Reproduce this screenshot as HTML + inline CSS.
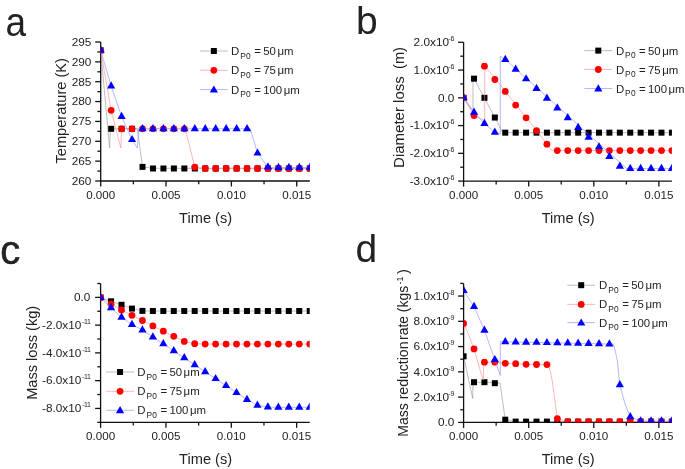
<!DOCTYPE html>
<html><head><meta charset="utf-8"><style>
html,body{margin:0;padding:0;background:#fff;}
body{width:685px;height:469px;overflow:hidden;}
svg{display:block;filter:blur(0.35px);}
</style></head><body>
<svg width="685" height="469" viewBox="0 0 685 469" font-family='"Liberation Sans", sans-serif'>
<rect width="685" height="469" fill="#fff"/>
<defs>
<clipPath id="ca"><rect x="100.70" y="36.00" width="209.10" height="145.00"/></clipPath>
<clipPath id="cb"><rect x="463.60" y="36.30" width="208.30" height="144.80"/></clipPath>
<clipPath id="cc"><rect x="100.60" y="277.50" width="209.10" height="144.80"/></clipPath>
<clipPath id="cd"><rect x="463.60" y="277.40" width="208.30" height="145.00"/></clipPath>
</defs>
<text transform="translate(5.4,36.4) scale(0.93,1)" font-size="39.8" fill="#222">a</text>
<text x="356.00" y="34.40" font-size="39" text-anchor="start" fill="#222" >b</text>
<text x="0.20" y="263.60" font-size="40" text-anchor="start" fill="#222" stroke="#222" stroke-width="0.5">c</text>
<text x="355.50" y="261.60" font-size="39" text-anchor="start" fill="#222" >d</text>
<line x1="95.20" y1="181.00" x2="100.70" y2="181.00" stroke="#111" stroke-width="1.3"/>
<line x1="95.20" y1="161.14" x2="100.70" y2="161.14" stroke="#111" stroke-width="1.3"/>
<line x1="95.20" y1="141.29" x2="100.70" y2="141.29" stroke="#111" stroke-width="1.3"/>
<line x1="95.20" y1="121.43" x2="100.70" y2="121.43" stroke="#111" stroke-width="1.3"/>
<line x1="95.20" y1="101.57" x2="100.70" y2="101.57" stroke="#111" stroke-width="1.3"/>
<line x1="95.20" y1="81.71" x2="100.70" y2="81.71" stroke="#111" stroke-width="1.3"/>
<line x1="95.20" y1="61.86" x2="100.70" y2="61.86" stroke="#111" stroke-width="1.3"/>
<line x1="95.20" y1="42.00" x2="100.70" y2="42.00" stroke="#111" stroke-width="1.3"/>
<line x1="97.40" y1="171.07" x2="100.70" y2="171.07" stroke="#111" stroke-width="1.3"/>
<line x1="97.40" y1="151.21" x2="100.70" y2="151.21" stroke="#111" stroke-width="1.3"/>
<line x1="97.40" y1="131.36" x2="100.70" y2="131.36" stroke="#111" stroke-width="1.3"/>
<line x1="97.40" y1="111.50" x2="100.70" y2="111.50" stroke="#111" stroke-width="1.3"/>
<line x1="97.40" y1="91.64" x2="100.70" y2="91.64" stroke="#111" stroke-width="1.3"/>
<line x1="97.40" y1="71.79" x2="100.70" y2="71.79" stroke="#111" stroke-width="1.3"/>
<line x1="97.40" y1="51.93" x2="100.70" y2="51.93" stroke="#111" stroke-width="1.3"/>
<line x1="100.70" y1="181.00" x2="100.70" y2="186.50" stroke="#111" stroke-width="1.3"/>
<line x1="166.04" y1="181.00" x2="166.04" y2="186.50" stroke="#111" stroke-width="1.3"/>
<line x1="231.39" y1="181.00" x2="231.39" y2="186.50" stroke="#111" stroke-width="1.3"/>
<line x1="296.73" y1="181.00" x2="296.73" y2="186.50" stroke="#111" stroke-width="1.3"/>
<line x1="133.37" y1="181.00" x2="133.37" y2="184.30" stroke="#111" stroke-width="1.3"/>
<line x1="198.72" y1="181.00" x2="198.72" y2="184.30" stroke="#111" stroke-width="1.3"/>
<line x1="264.06" y1="181.00" x2="264.06" y2="184.30" stroke="#111" stroke-width="1.3"/>
<path d="M100.70,42.00V181.00H309.80" fill="none" stroke="#111" stroke-width="1.3"/>
<text x="100.70" y="199.20" font-size="11.6" text-anchor="middle" fill="#222" >0.000</text>
<text x="166.04" y="199.20" font-size="11.6" text-anchor="middle" fill="#222" >0.005</text>
<text x="231.39" y="199.20" font-size="11.6" text-anchor="middle" fill="#222" >0.010</text>
<text x="296.73" y="199.20" font-size="11.6" text-anchor="middle" fill="#222" >0.015</text>
<text x="91.40" y="184.80" font-size="11.8" text-anchor="end" fill="#222" >260</text>
<text x="91.40" y="164.94" font-size="11.8" text-anchor="end" fill="#222" >265</text>
<text x="91.40" y="145.09" font-size="11.8" text-anchor="end" fill="#222" >270</text>
<text x="91.40" y="125.23" font-size="11.8" text-anchor="end" fill="#222" >275</text>
<text x="91.40" y="105.37" font-size="11.8" text-anchor="end" fill="#222" >280</text>
<text x="91.40" y="85.51" font-size="11.8" text-anchor="end" fill="#222" >285</text>
<text x="91.40" y="65.66" font-size="11.8" text-anchor="end" fill="#222" >290</text>
<text x="91.40" y="45.80" font-size="11.8" text-anchor="end" fill="#222" >295</text>
<text x="205.60" y="222.70" font-size="14.6" text-anchor="middle" fill="#222" >Time (s)</text>
<text transform="translate(65.7,110.8) rotate(-90)" font-size="14.6" text-anchor="middle" fill="#222">Temperature (K)</text>
<g clip-path="url(#ca)">
<path d="M100.70,50.34L109.59,148.04L110.37,128.78L137.29,128.78L142.52,166.90L152.98,168.29L316.33,168.29" fill="none" stroke="#959595" stroke-width="0.62"/>
<rect x="97.70" y="47.34" width="6.0" height="6.0" fill="#000"/>
<rect x="108.16" y="125.78" width="6.0" height="6.0" fill="#000"/>
<rect x="118.61" y="125.78" width="6.0" height="6.0" fill="#000"/>
<rect x="129.06" y="125.78" width="6.0" height="6.0" fill="#000"/>
<rect x="139.52" y="163.90" width="6.0" height="6.0" fill="#000"/>
<rect x="149.98" y="165.49" width="6.0" height="6.0" fill="#000"/>
<rect x="160.43" y="165.49" width="6.0" height="6.0" fill="#000"/>
<rect x="170.89" y="165.49" width="6.0" height="6.0" fill="#000"/>
<rect x="181.34" y="165.49" width="6.0" height="6.0" fill="#000"/>
<rect x="191.80" y="165.49" width="6.0" height="6.0" fill="#000"/>
<rect x="202.25" y="165.49" width="6.0" height="6.0" fill="#000"/>
<rect x="212.71" y="165.49" width="6.0" height="6.0" fill="#000"/>
<rect x="223.16" y="165.49" width="6.0" height="6.0" fill="#000"/>
<rect x="233.62" y="165.49" width="6.0" height="6.0" fill="#000"/>
<rect x="244.07" y="165.49" width="6.0" height="6.0" fill="#000"/>
<rect x="254.53" y="165.49" width="6.0" height="6.0" fill="#000"/>
<rect x="264.98" y="165.49" width="6.0" height="6.0" fill="#000"/>
<rect x="275.44" y="165.49" width="6.0" height="6.0" fill="#000"/>
<rect x="285.89" y="165.49" width="6.0" height="6.0" fill="#000"/>
<rect x="296.35" y="165.49" width="6.0" height="6.0" fill="#000"/>
<rect x="306.80" y="165.49" width="6.0" height="6.0" fill="#000"/>
</g>
<g clip-path="url(#ca)">
<path d="M100.70,50.34L111.16,110.31L120.83,148.04L121.61,128.78L185.25,128.78L194.80,167.10L205.25,168.49L316.33,168.49" fill="none" stroke="#ff8c8c" stroke-width="0.62"/>
<circle cx="100.70" cy="50.34" r="3.4" fill="#f00"/>
<circle cx="111.16" cy="110.31" r="3.4" fill="#f00"/>
<circle cx="121.61" cy="128.78" r="3.4" fill="#f00"/>
<circle cx="132.06" cy="128.78" r="3.4" fill="#f00"/>
<circle cx="142.52" cy="128.78" r="3.4" fill="#f00"/>
<circle cx="152.98" cy="128.78" r="3.4" fill="#f00"/>
<circle cx="163.43" cy="128.78" r="3.4" fill="#f00"/>
<circle cx="173.89" cy="128.78" r="3.4" fill="#f00"/>
<circle cx="184.34" cy="128.78" r="3.4" fill="#f00"/>
<circle cx="194.80" cy="167.10" r="3.4" fill="#f00"/>
<circle cx="205.25" cy="168.49" r="3.4" fill="#f00"/>
<circle cx="215.71" cy="168.49" r="3.4" fill="#f00"/>
<circle cx="226.16" cy="168.49" r="3.4" fill="#f00"/>
<circle cx="236.62" cy="168.49" r="3.4" fill="#f00"/>
<circle cx="247.07" cy="168.49" r="3.4" fill="#f00"/>
<circle cx="257.53" cy="168.49" r="3.4" fill="#f00"/>
<circle cx="267.98" cy="168.49" r="3.4" fill="#f00"/>
<circle cx="278.44" cy="168.49" r="3.4" fill="#f00"/>
<circle cx="288.89" cy="168.49" r="3.4" fill="#f00"/>
<circle cx="299.35" cy="168.49" r="3.4" fill="#f00"/>
<circle cx="309.80" cy="168.49" r="3.4" fill="#f00"/>
</g>
<g clip-path="url(#ca)">
<path d="M100.70,50.34L111.16,86.08L121.61,116.66L132.06,139.70L137.29,148.04L138.86,128.78L250.21,128.78L257.53,153.20L267.98,167.10L278.44,167.50L316.33,167.50" fill="none" stroke="#8c8cff" stroke-width="0.62"/>
<path d="M100.70,45.54L104.80,52.74L96.60,52.74Z" fill="#00f"/>
<path d="M111.16,81.28L115.25,88.48L107.06,88.48Z" fill="#00f"/>
<path d="M121.61,111.86L125.71,119.06L117.51,119.06Z" fill="#00f"/>
<path d="M132.06,134.90L136.16,142.10L127.97,142.10Z" fill="#00f"/>
<path d="M142.52,123.98L146.62,131.18L138.42,131.18Z" fill="#00f"/>
<path d="M152.98,123.98L157.08,131.18L148.88,131.18Z" fill="#00f"/>
<path d="M163.43,123.98L167.53,131.18L159.33,131.18Z" fill="#00f"/>
<path d="M173.89,123.98L177.99,131.18L169.79,131.18Z" fill="#00f"/>
<path d="M184.34,123.98L188.44,131.18L180.24,131.18Z" fill="#00f"/>
<path d="M194.80,123.98L198.90,131.18L190.70,131.18Z" fill="#00f"/>
<path d="M205.25,123.98L209.35,131.18L201.15,131.18Z" fill="#00f"/>
<path d="M215.71,123.98L219.81,131.18L211.61,131.18Z" fill="#00f"/>
<path d="M226.16,123.98L230.26,131.18L222.06,131.18Z" fill="#00f"/>
<path d="M236.62,123.98L240.72,131.18L232.52,131.18Z" fill="#00f"/>
<path d="M247.07,123.98L251.17,131.18L242.97,131.18Z" fill="#00f"/>
<path d="M257.53,148.40L261.63,155.60L253.43,155.60Z" fill="#00f"/>
<path d="M267.98,162.30L272.08,169.50L263.88,169.50Z" fill="#00f"/>
<path d="M278.44,162.70L282.54,169.90L274.34,169.90Z" fill="#00f"/>
<path d="M288.89,162.70L292.99,169.90L284.79,169.90Z" fill="#00f"/>
<path d="M299.35,162.70L303.45,169.90L295.25,169.90Z" fill="#00f"/>
<path d="M309.80,162.70L313.90,169.90L305.70,169.90Z" fill="#00f"/>
</g>
<line x1="200.00" y1="51.00" x2="227.70" y2="51.00" stroke="#959595" stroke-width="0.62"/>
<rect x="210.85" y="48.00" width="6.0" height="6.0" fill="#000"/>
<text x="231.10" y="55.00" font-size="11.4" text-anchor="start" fill="#222" >D</text>
<text x="240.30" y="58.60" font-size="8.4" text-anchor="start" fill="#222" letter-spacing="0.2">P0</text>
<text x="254.20" y="55.00" font-size="11.4" text-anchor="start" fill="#222" >=</text>
<text x="263.20" y="55.00" font-size="11.4" text-anchor="start" fill="#222" >50</text>
<text x="277.40" y="55.00" font-size="11.4" text-anchor="start" fill="#222" >μm</text>
<line x1="200.00" y1="70.30" x2="227.70" y2="70.30" stroke="#ff8c8c" stroke-width="0.62"/>
<circle cx="213.85" cy="70.30" r="3.4" fill="#f00"/>
<text x="231.10" y="74.30" font-size="11.4" text-anchor="start" fill="#222" >D</text>
<text x="240.30" y="77.90" font-size="8.4" text-anchor="start" fill="#222" letter-spacing="0.2">P0</text>
<text x="254.20" y="74.30" font-size="11.4" text-anchor="start" fill="#222" >=</text>
<text x="263.20" y="74.30" font-size="11.4" text-anchor="start" fill="#222" >75</text>
<text x="277.40" y="74.30" font-size="11.4" text-anchor="start" fill="#222" >μm</text>
<line x1="200.00" y1="89.60" x2="227.70" y2="89.60" stroke="#8c8cff" stroke-width="0.62"/>
<path d="M213.85,85.40L217.95,92.60L209.75,92.60Z" fill="#00f"/>
<text x="231.10" y="93.60" font-size="11.4" text-anchor="start" fill="#222" >D</text>
<text x="240.30" y="97.20" font-size="8.4" text-anchor="start" fill="#222" letter-spacing="0.2">P0</text>
<text x="254.20" y="93.60" font-size="11.4" text-anchor="start" fill="#222" >=</text>
<text x="263.20" y="93.60" font-size="11.4" text-anchor="start" fill="#222" >100</text>
<text x="283.70" y="93.60" font-size="11.4" text-anchor="start" fill="#222" >μm</text>
<line x1="458.10" y1="181.10" x2="463.60" y2="181.10" stroke="#111" stroke-width="1.3"/>
<line x1="458.10" y1="153.34" x2="463.60" y2="153.34" stroke="#111" stroke-width="1.3"/>
<line x1="458.10" y1="125.58" x2="463.60" y2="125.58" stroke="#111" stroke-width="1.3"/>
<line x1="458.10" y1="97.82" x2="463.60" y2="97.82" stroke="#111" stroke-width="1.3"/>
<line x1="458.10" y1="70.06" x2="463.60" y2="70.06" stroke="#111" stroke-width="1.3"/>
<line x1="458.10" y1="42.30" x2="463.60" y2="42.30" stroke="#111" stroke-width="1.3"/>
<line x1="460.30" y1="167.22" x2="463.60" y2="167.22" stroke="#111" stroke-width="1.3"/>
<line x1="460.30" y1="139.46" x2="463.60" y2="139.46" stroke="#111" stroke-width="1.3"/>
<line x1="460.30" y1="111.70" x2="463.60" y2="111.70" stroke="#111" stroke-width="1.3"/>
<line x1="460.30" y1="83.94" x2="463.60" y2="83.94" stroke="#111" stroke-width="1.3"/>
<line x1="460.30" y1="56.18" x2="463.60" y2="56.18" stroke="#111" stroke-width="1.3"/>
<line x1="463.60" y1="181.10" x2="463.60" y2="186.60" stroke="#111" stroke-width="1.3"/>
<line x1="528.69" y1="181.10" x2="528.69" y2="186.60" stroke="#111" stroke-width="1.3"/>
<line x1="593.79" y1="181.10" x2="593.79" y2="186.60" stroke="#111" stroke-width="1.3"/>
<line x1="658.88" y1="181.10" x2="658.88" y2="186.60" stroke="#111" stroke-width="1.3"/>
<line x1="496.15" y1="181.10" x2="496.15" y2="184.40" stroke="#111" stroke-width="1.3"/>
<line x1="561.24" y1="181.10" x2="561.24" y2="184.40" stroke="#111" stroke-width="1.3"/>
<line x1="626.33" y1="181.10" x2="626.33" y2="184.40" stroke="#111" stroke-width="1.3"/>
<path d="M463.60,42.30V181.10H671.90" fill="none" stroke="#111" stroke-width="1.3"/>
<text x="463.60" y="199.20" font-size="11.6" text-anchor="middle" fill="#222" >0.000</text>
<text x="528.69" y="199.20" font-size="11.6" text-anchor="middle" fill="#222" >0.005</text>
<text x="593.79" y="199.20" font-size="11.6" text-anchor="middle" fill="#222" >0.010</text>
<text x="658.88" y="199.20" font-size="11.6" text-anchor="middle" fill="#222" >0.015</text>
<text x="449.00" y="184.90" font-size="11.8" text-anchor="end" fill="#222" >-3.0x10</text>
<text x="454.40" y="179.90" font-size="7.0" text-anchor="end" fill="#222" >-6</text>
<text x="449.00" y="157.14" font-size="11.8" text-anchor="end" fill="#222" >-2.0x10</text>
<text x="454.40" y="152.14" font-size="7.0" text-anchor="end" fill="#222" >-6</text>
<text x="449.00" y="129.38" font-size="11.8" text-anchor="end" fill="#222" >-1.0x10</text>
<text x="454.40" y="124.38" font-size="7.0" text-anchor="end" fill="#222" >-6</text>
<text x="454.40" y="101.62" font-size="11.8" text-anchor="end" fill="#222" >0.0</text>
<text x="449.00" y="73.86" font-size="11.8" text-anchor="end" fill="#222" >1.0x10</text>
<text x="454.40" y="68.86" font-size="7.0" text-anchor="end" fill="#222" >-6</text>
<text x="449.00" y="46.10" font-size="11.8" text-anchor="end" fill="#222" >2.0x10</text>
<text x="454.40" y="41.10" font-size="7.0" text-anchor="end" fill="#222" >-6</text>
<text x="568.20" y="222.70" font-size="14.6" text-anchor="middle" fill="#222" >Time (s)</text>
<text transform="translate(404.2,167.9) rotate(-90)" font-size="14.8" fill="#222" textLength="91.6" lengthAdjust="spacingAndGlyphs">Diameter loss</text>
<text transform="translate(404.2,68.9) rotate(-90)" font-size="14.6" fill="#222">(m)</text>
<g clip-path="url(#cb)">
<path d="M463.60,97.82L472.97,111.14L472.97,76.72L494.85,117.53L502.66,132.66L678.41,132.66" fill="none" stroke="#959595" stroke-width="0.62"/>
<rect x="460.60" y="94.82" width="6.0" height="6.0" fill="#000"/>
<rect x="471.02" y="75.67" width="6.0" height="6.0" fill="#000"/>
<rect x="481.43" y="94.82" width="6.0" height="6.0" fill="#000"/>
<rect x="491.85" y="114.53" width="6.0" height="6.0" fill="#000"/>
<rect x="502.26" y="129.66" width="6.0" height="6.0" fill="#000"/>
<rect x="512.67" y="129.66" width="6.0" height="6.0" fill="#000"/>
<rect x="523.09" y="129.66" width="6.0" height="6.0" fill="#000"/>
<rect x="533.50" y="129.66" width="6.0" height="6.0" fill="#000"/>
<rect x="543.92" y="129.66" width="6.0" height="6.0" fill="#000"/>
<rect x="554.34" y="129.66" width="6.0" height="6.0" fill="#000"/>
<rect x="564.75" y="129.66" width="6.0" height="6.0" fill="#000"/>
<rect x="575.16" y="129.66" width="6.0" height="6.0" fill="#000"/>
<rect x="585.58" y="129.66" width="6.0" height="6.0" fill="#000"/>
<rect x="596.00" y="129.66" width="6.0" height="6.0" fill="#000"/>
<rect x="606.41" y="129.66" width="6.0" height="6.0" fill="#000"/>
<rect x="616.83" y="129.66" width="6.0" height="6.0" fill="#000"/>
<rect x="627.24" y="129.66" width="6.0" height="6.0" fill="#000"/>
<rect x="637.65" y="129.66" width="6.0" height="6.0" fill="#000"/>
<rect x="648.07" y="129.66" width="6.0" height="6.0" fill="#000"/>
<rect x="658.48" y="129.66" width="6.0" height="6.0" fill="#000"/>
<rect x="668.90" y="129.66" width="6.0" height="6.0" fill="#000"/>
</g>
<g clip-path="url(#cb)">
<path d="M463.60,97.82L474.02,115.59L484.69,120.58L484.69,65.34L536.50,130.58L546.92,144.18L551.87,150.56L678.41,150.56" fill="none" stroke="#ff8c8c" stroke-width="0.62"/>
<circle cx="463.60" cy="97.82" r="3.4" fill="#f00"/>
<circle cx="474.02" cy="115.59" r="3.4" fill="#f00"/>
<circle cx="484.43" cy="66.17" r="3.4" fill="#f00"/>
<circle cx="494.85" cy="79.50" r="3.4" fill="#f00"/>
<circle cx="505.26" cy="91.44" r="3.4" fill="#f00"/>
<circle cx="515.67" cy="105.04" r="3.4" fill="#f00"/>
<circle cx="526.09" cy="117.81" r="3.4" fill="#f00"/>
<circle cx="536.50" cy="130.58" r="3.4" fill="#f00"/>
<circle cx="546.92" cy="144.18" r="3.4" fill="#f00"/>
<circle cx="557.34" cy="150.56" r="3.4" fill="#f00"/>
<circle cx="567.75" cy="150.56" r="3.4" fill="#f00"/>
<circle cx="578.16" cy="150.56" r="3.4" fill="#f00"/>
<circle cx="588.58" cy="150.56" r="3.4" fill="#f00"/>
<circle cx="599.00" cy="150.56" r="3.4" fill="#f00"/>
<circle cx="609.41" cy="150.56" r="3.4" fill="#f00"/>
<circle cx="619.83" cy="150.56" r="3.4" fill="#f00"/>
<circle cx="630.24" cy="150.56" r="3.4" fill="#f00"/>
<circle cx="640.65" cy="150.56" r="3.4" fill="#f00"/>
<circle cx="651.07" cy="150.56" r="3.4" fill="#f00"/>
<circle cx="661.48" cy="150.56" r="3.4" fill="#f00"/>
<circle cx="671.90" cy="150.56" r="3.4" fill="#f00"/>
</g>
<g clip-path="url(#cb)">
<path d="M463.60,97.82L474.02,112.26L484.43,123.64L494.85,132.24L500.31,133.91L500.31,56.18L505.26,59.51L626.72,168.61L678.41,168.61" fill="none" stroke="#8c8cff" stroke-width="0.62"/>
<path d="M463.60,93.02L467.70,100.22L459.50,100.22Z" fill="#00f"/>
<path d="M474.02,107.46L478.12,114.66L469.92,114.66Z" fill="#00f"/>
<path d="M484.43,118.84L488.53,126.04L480.33,126.04Z" fill="#00f"/>
<path d="M494.85,127.44L498.95,134.64L490.75,134.64Z" fill="#00f"/>
<path d="M505.26,54.71L509.36,61.91L501.16,61.91Z" fill="#00f"/>
<path d="M515.67,64.43L519.77,71.63L511.57,71.63Z" fill="#00f"/>
<path d="M526.09,74.14L530.19,81.34L521.99,81.34Z" fill="#00f"/>
<path d="M536.50,83.86L540.61,91.06L532.40,91.06Z" fill="#00f"/>
<path d="M546.92,93.58L551.02,100.78L542.82,100.78Z" fill="#00f"/>
<path d="M557.34,103.29L561.44,110.49L553.24,110.49Z" fill="#00f"/>
<path d="M567.75,113.01L571.85,120.21L563.65,120.21Z" fill="#00f"/>
<path d="M578.16,122.72L582.26,129.92L574.06,129.92Z" fill="#00f"/>
<path d="M588.58,132.44L592.68,139.64L584.48,139.64Z" fill="#00f"/>
<path d="M599.00,142.16L603.10,149.36L594.89,149.36Z" fill="#00f"/>
<path d="M609.41,151.87L613.51,159.07L605.31,159.07Z" fill="#00f"/>
<path d="M619.83,161.59L623.93,168.79L615.73,168.79Z" fill="#00f"/>
<path d="M630.24,163.81L634.34,171.01L626.14,171.01Z" fill="#00f"/>
<path d="M640.65,163.81L644.75,171.01L636.55,171.01Z" fill="#00f"/>
<path d="M651.07,163.81L655.17,171.01L646.97,171.01Z" fill="#00f"/>
<path d="M661.48,163.81L665.58,171.01L657.38,171.01Z" fill="#00f"/>
<path d="M671.90,163.81L676.00,171.01L667.80,171.01Z" fill="#00f"/>
</g>
<line x1="584.30" y1="50.60" x2="612.30" y2="50.60" stroke="#959595" stroke-width="0.62"/>
<rect x="595.30" y="47.60" width="6.0" height="6.0" fill="#000"/>
<text x="615.90" y="54.60" font-size="11.4" text-anchor="start" fill="#222" >D</text>
<text x="625.10" y="58.20" font-size="8.4" text-anchor="start" fill="#222" letter-spacing="0.2">P0</text>
<text x="639.00" y="54.60" font-size="11.4" text-anchor="start" fill="#222" >=</text>
<text x="648.00" y="54.60" font-size="11.4" text-anchor="start" fill="#222" >50</text>
<text x="662.20" y="54.60" font-size="11.4" text-anchor="start" fill="#222" >μm</text>
<line x1="584.30" y1="69.50" x2="612.30" y2="69.50" stroke="#ff8c8c" stroke-width="0.62"/>
<circle cx="598.30" cy="69.50" r="3.4" fill="#f00"/>
<text x="615.90" y="73.50" font-size="11.4" text-anchor="start" fill="#222" >D</text>
<text x="625.10" y="77.10" font-size="8.4" text-anchor="start" fill="#222" letter-spacing="0.2">P0</text>
<text x="639.00" y="73.50" font-size="11.4" text-anchor="start" fill="#222" >=</text>
<text x="648.00" y="73.50" font-size="11.4" text-anchor="start" fill="#222" >75</text>
<text x="662.20" y="73.50" font-size="11.4" text-anchor="start" fill="#222" >μm</text>
<line x1="584.30" y1="88.50" x2="612.30" y2="88.50" stroke="#8c8cff" stroke-width="0.62"/>
<path d="M598.30,84.30L602.40,91.50L594.20,91.50Z" fill="#00f"/>
<text x="615.90" y="92.50" font-size="11.4" text-anchor="start" fill="#222" >D</text>
<text x="625.10" y="96.10" font-size="8.4" text-anchor="start" fill="#222" letter-spacing="0.2">P0</text>
<text x="639.00" y="92.50" font-size="11.4" text-anchor="start" fill="#222" >=</text>
<text x="648.00" y="92.50" font-size="11.4" text-anchor="start" fill="#222" >100</text>
<text x="668.50" y="92.50" font-size="11.4" text-anchor="start" fill="#222" >μm</text>
<line x1="95.10" y1="408.42" x2="100.60" y2="408.42" stroke="#111" stroke-width="1.3"/>
<line x1="95.10" y1="380.66" x2="100.60" y2="380.66" stroke="#111" stroke-width="1.3"/>
<line x1="95.10" y1="352.90" x2="100.60" y2="352.90" stroke="#111" stroke-width="1.3"/>
<line x1="95.10" y1="325.14" x2="100.60" y2="325.14" stroke="#111" stroke-width="1.3"/>
<line x1="95.10" y1="297.38" x2="100.60" y2="297.38" stroke="#111" stroke-width="1.3"/>
<line x1="97.30" y1="422.30" x2="100.60" y2="422.30" stroke="#111" stroke-width="1.3"/>
<line x1="97.30" y1="394.54" x2="100.60" y2="394.54" stroke="#111" stroke-width="1.3"/>
<line x1="97.30" y1="366.78" x2="100.60" y2="366.78" stroke="#111" stroke-width="1.3"/>
<line x1="97.30" y1="339.02" x2="100.60" y2="339.02" stroke="#111" stroke-width="1.3"/>
<line x1="97.30" y1="311.26" x2="100.60" y2="311.26" stroke="#111" stroke-width="1.3"/>
<line x1="97.30" y1="283.50" x2="100.60" y2="283.50" stroke="#111" stroke-width="1.3"/>
<line x1="100.60" y1="422.30" x2="100.60" y2="427.80" stroke="#111" stroke-width="1.3"/>
<line x1="165.94" y1="422.30" x2="165.94" y2="427.80" stroke="#111" stroke-width="1.3"/>
<line x1="231.29" y1="422.30" x2="231.29" y2="427.80" stroke="#111" stroke-width="1.3"/>
<line x1="296.63" y1="422.30" x2="296.63" y2="427.80" stroke="#111" stroke-width="1.3"/>
<line x1="133.27" y1="422.30" x2="133.27" y2="425.60" stroke="#111" stroke-width="1.3"/>
<line x1="198.62" y1="422.30" x2="198.62" y2="425.60" stroke="#111" stroke-width="1.3"/>
<line x1="263.96" y1="422.30" x2="263.96" y2="425.60" stroke="#111" stroke-width="1.3"/>
<path d="M100.60,283.50V422.30H309.70" fill="none" stroke="#111" stroke-width="1.3"/>
<text x="100.60" y="440.40" font-size="11.6" text-anchor="middle" fill="#222" >0.000</text>
<text x="165.94" y="440.40" font-size="11.6" text-anchor="middle" fill="#222" >0.005</text>
<text x="231.29" y="440.40" font-size="11.6" text-anchor="middle" fill="#222" >0.010</text>
<text x="296.63" y="440.40" font-size="11.6" text-anchor="middle" fill="#222" >0.015</text>
<text x="81.40" y="412.22" font-size="11.8" text-anchor="end" fill="#222" >-8.0x10</text>
<text x="90.40" y="407.22" font-size="7.0" text-anchor="end" fill="#222" letter-spacing="-0.5">-11</text>
<text x="81.40" y="384.46" font-size="11.8" text-anchor="end" fill="#222" >-6.0x10</text>
<text x="90.40" y="379.46" font-size="7.0" text-anchor="end" fill="#222" letter-spacing="-0.5">-11</text>
<text x="81.40" y="356.70" font-size="11.8" text-anchor="end" fill="#222" >-4.0x10</text>
<text x="90.40" y="351.70" font-size="7.0" text-anchor="end" fill="#222" letter-spacing="-0.5">-11</text>
<text x="81.40" y="328.94" font-size="11.8" text-anchor="end" fill="#222" >-2.0x10</text>
<text x="90.40" y="323.94" font-size="7.0" text-anchor="end" fill="#222" letter-spacing="-0.5">-11</text>
<text x="90.40" y="301.18" font-size="11.8" text-anchor="end" fill="#222" >0.0</text>
<text x="205.60" y="463.90" font-size="14.6" text-anchor="middle" fill="#222" >Time (s)</text>
<text transform="translate(36.7,352.8) rotate(-90)" font-size="14.6" text-anchor="middle" fill="#222">Mass loss (kg)</text>
<g clip-path="url(#cc)">
<path d="M100.60,297.50L111.05,301.30L121.51,304.80L131.97,308.60L142.42,310.90L152.88,311.00L163.33,311.00L173.78,311.00L184.24,311.00L194.69,311.00L205.15,311.00L215.61,311.00L226.06,311.00L236.51,311.00L246.97,311.00L257.42,311.00L267.88,311.00L278.34,311.00L288.79,311.00L299.25,311.00L309.70,311.00L316.23,311.00" fill="none" stroke="#959595" stroke-width="0.62"/>
<rect x="97.60" y="294.50" width="6.0" height="6.0" fill="#000"/>
<rect x="108.05" y="298.30" width="6.0" height="6.0" fill="#000"/>
<rect x="118.51" y="301.80" width="6.0" height="6.0" fill="#000"/>
<rect x="128.97" y="305.60" width="6.0" height="6.0" fill="#000"/>
<rect x="139.42" y="307.90" width="6.0" height="6.0" fill="#000"/>
<rect x="149.88" y="308.00" width="6.0" height="6.0" fill="#000"/>
<rect x="160.33" y="308.00" width="6.0" height="6.0" fill="#000"/>
<rect x="170.78" y="308.00" width="6.0" height="6.0" fill="#000"/>
<rect x="181.24" y="308.00" width="6.0" height="6.0" fill="#000"/>
<rect x="191.69" y="308.00" width="6.0" height="6.0" fill="#000"/>
<rect x="202.15" y="308.00" width="6.0" height="6.0" fill="#000"/>
<rect x="212.61" y="308.00" width="6.0" height="6.0" fill="#000"/>
<rect x="223.06" y="308.00" width="6.0" height="6.0" fill="#000"/>
<rect x="233.51" y="308.00" width="6.0" height="6.0" fill="#000"/>
<rect x="243.97" y="308.00" width="6.0" height="6.0" fill="#000"/>
<rect x="254.42" y="308.00" width="6.0" height="6.0" fill="#000"/>
<rect x="264.88" y="308.00" width="6.0" height="6.0" fill="#000"/>
<rect x="275.34" y="308.00" width="6.0" height="6.0" fill="#000"/>
<rect x="285.79" y="308.00" width="6.0" height="6.0" fill="#000"/>
<rect x="296.25" y="308.00" width="6.0" height="6.0" fill="#000"/>
<rect x="306.70" y="308.00" width="6.0" height="6.0" fill="#000"/>
</g>
<g clip-path="url(#cc)">
<path d="M100.60,297.50L111.05,304.20L121.51,310.00L131.97,315.30L142.42,320.50L152.88,325.90L163.33,331.20L173.78,336.30L184.24,341.40L194.69,343.70L205.15,344.10L215.61,344.10L226.06,344.10L236.51,344.10L246.97,344.10L257.42,344.10L267.88,344.10L278.34,344.10L288.79,344.10L299.25,344.10L309.70,344.10L316.23,344.10" fill="none" stroke="#ff8c8c" stroke-width="0.62"/>
<circle cx="100.60" cy="297.50" r="3.4" fill="#f00"/>
<circle cx="111.05" cy="304.20" r="3.4" fill="#f00"/>
<circle cx="121.51" cy="310.00" r="3.4" fill="#f00"/>
<circle cx="131.97" cy="315.30" r="3.4" fill="#f00"/>
<circle cx="142.42" cy="320.50" r="3.4" fill="#f00"/>
<circle cx="152.88" cy="325.90" r="3.4" fill="#f00"/>
<circle cx="163.33" cy="331.20" r="3.4" fill="#f00"/>
<circle cx="173.78" cy="336.30" r="3.4" fill="#f00"/>
<circle cx="184.24" cy="341.40" r="3.4" fill="#f00"/>
<circle cx="194.69" cy="343.70" r="3.4" fill="#f00"/>
<circle cx="205.15" cy="344.10" r="3.4" fill="#f00"/>
<circle cx="215.61" cy="344.10" r="3.4" fill="#f00"/>
<circle cx="226.06" cy="344.10" r="3.4" fill="#f00"/>
<circle cx="236.51" cy="344.10" r="3.4" fill="#f00"/>
<circle cx="246.97" cy="344.10" r="3.4" fill="#f00"/>
<circle cx="257.42" cy="344.10" r="3.4" fill="#f00"/>
<circle cx="267.88" cy="344.10" r="3.4" fill="#f00"/>
<circle cx="278.34" cy="344.10" r="3.4" fill="#f00"/>
<circle cx="288.79" cy="344.10" r="3.4" fill="#f00"/>
<circle cx="299.25" cy="344.10" r="3.4" fill="#f00"/>
<circle cx="309.70" cy="344.10" r="3.4" fill="#f00"/>
</g>
<g clip-path="url(#cc)">
<path d="M100.60,297.50L111.05,307.90L121.51,317.40L131.97,324.50L142.42,330.00L152.88,337.00L163.33,343.90L173.78,350.90L184.24,357.90L194.69,364.80L205.15,371.80L215.61,378.70L226.06,385.70L236.51,392.70L246.97,399.60L257.42,405.30L267.88,407.10L278.34,407.30L288.79,407.30L299.25,407.30L309.70,407.30L316.23,407.30" fill="none" stroke="#8c8cff" stroke-width="0.62"/>
<path d="M100.60,292.70L104.70,299.90L96.50,299.90Z" fill="#00f"/>
<path d="M111.05,303.10L115.15,310.30L106.95,310.30Z" fill="#00f"/>
<path d="M121.51,312.60L125.61,319.80L117.41,319.80Z" fill="#00f"/>
<path d="M131.97,319.70L136.06,326.90L127.87,326.90Z" fill="#00f"/>
<path d="M142.42,325.20L146.52,332.40L138.32,332.40Z" fill="#00f"/>
<path d="M152.88,332.20L156.97,339.40L148.78,339.40Z" fill="#00f"/>
<path d="M163.33,339.10L167.43,346.30L159.23,346.30Z" fill="#00f"/>
<path d="M173.78,346.10L177.88,353.30L169.69,353.30Z" fill="#00f"/>
<path d="M184.24,353.10L188.34,360.30L180.14,360.30Z" fill="#00f"/>
<path d="M194.69,360.00L198.79,367.20L190.59,367.20Z" fill="#00f"/>
<path d="M205.15,367.00L209.25,374.20L201.05,374.20Z" fill="#00f"/>
<path d="M215.61,373.90L219.71,381.10L211.51,381.10Z" fill="#00f"/>
<path d="M226.06,380.90L230.16,388.10L221.96,388.10Z" fill="#00f"/>
<path d="M236.51,387.90L240.61,395.10L232.41,395.10Z" fill="#00f"/>
<path d="M246.97,394.80L251.07,402.00L242.87,402.00Z" fill="#00f"/>
<path d="M257.42,400.50L261.52,407.70L253.32,407.70Z" fill="#00f"/>
<path d="M267.88,402.30L271.98,409.50L263.78,409.50Z" fill="#00f"/>
<path d="M278.34,402.50L282.44,409.70L274.24,409.70Z" fill="#00f"/>
<path d="M288.79,402.50L292.89,409.70L284.69,409.70Z" fill="#00f"/>
<path d="M299.25,402.50L303.35,409.70L295.14,409.70Z" fill="#00f"/>
<path d="M309.70,402.50L313.80,409.70L305.60,409.70Z" fill="#00f"/>
</g>
<line x1="106.10" y1="372.00" x2="134.00" y2="372.00" stroke="#959595" stroke-width="0.62"/>
<rect x="117.05" y="369.00" width="6.0" height="6.0" fill="#000"/>
<text x="137.30" y="376.00" font-size="11.4" text-anchor="start" fill="#222" >D</text>
<text x="146.50" y="379.60" font-size="8.4" text-anchor="start" fill="#222" letter-spacing="0.2">P0</text>
<text x="160.40" y="376.00" font-size="11.4" text-anchor="start" fill="#222" >=</text>
<text x="169.40" y="376.00" font-size="11.4" text-anchor="start" fill="#222" >50</text>
<text x="183.60" y="376.00" font-size="11.4" text-anchor="start" fill="#222" >μm</text>
<line x1="106.10" y1="391.30" x2="134.00" y2="391.30" stroke="#ff8c8c" stroke-width="0.62"/>
<circle cx="120.05" cy="391.30" r="3.4" fill="#f00"/>
<text x="137.30" y="395.30" font-size="11.4" text-anchor="start" fill="#222" >D</text>
<text x="146.50" y="398.90" font-size="8.4" text-anchor="start" fill="#222" letter-spacing="0.2">P0</text>
<text x="160.40" y="395.30" font-size="11.4" text-anchor="start" fill="#222" >=</text>
<text x="169.40" y="395.30" font-size="11.4" text-anchor="start" fill="#222" >75</text>
<text x="183.60" y="395.30" font-size="11.4" text-anchor="start" fill="#222" >μm</text>
<line x1="106.10" y1="410.30" x2="134.00" y2="410.30" stroke="#8c8cff" stroke-width="0.62"/>
<path d="M120.05,406.10L124.15,413.30L115.95,413.30Z" fill="#00f"/>
<text x="137.30" y="414.30" font-size="11.4" text-anchor="start" fill="#222" >D</text>
<text x="146.50" y="417.90" font-size="8.4" text-anchor="start" fill="#222" letter-spacing="0.2">P0</text>
<text x="160.40" y="414.30" font-size="11.4" text-anchor="start" fill="#222" >=</text>
<text x="169.40" y="414.30" font-size="11.4" text-anchor="start" fill="#222" >100</text>
<text x="189.90" y="414.30" font-size="11.4" text-anchor="start" fill="#222" >μm</text>
<line x1="458.10" y1="422.40" x2="463.60" y2="422.40" stroke="#111" stroke-width="1.3"/>
<line x1="458.10" y1="397.13" x2="463.60" y2="397.13" stroke="#111" stroke-width="1.3"/>
<line x1="458.10" y1="371.85" x2="463.60" y2="371.85" stroke="#111" stroke-width="1.3"/>
<line x1="458.10" y1="346.58" x2="463.60" y2="346.58" stroke="#111" stroke-width="1.3"/>
<line x1="458.10" y1="321.31" x2="463.60" y2="321.31" stroke="#111" stroke-width="1.3"/>
<line x1="458.10" y1="296.04" x2="463.60" y2="296.04" stroke="#111" stroke-width="1.3"/>
<line x1="460.30" y1="409.76" x2="463.60" y2="409.76" stroke="#111" stroke-width="1.3"/>
<line x1="460.30" y1="384.49" x2="463.60" y2="384.49" stroke="#111" stroke-width="1.3"/>
<line x1="460.30" y1="359.22" x2="463.60" y2="359.22" stroke="#111" stroke-width="1.3"/>
<line x1="460.30" y1="333.95" x2="463.60" y2="333.95" stroke="#111" stroke-width="1.3"/>
<line x1="460.30" y1="308.67" x2="463.60" y2="308.67" stroke="#111" stroke-width="1.3"/>
<line x1="460.30" y1="283.40" x2="463.60" y2="283.40" stroke="#111" stroke-width="1.3"/>
<line x1="463.60" y1="422.40" x2="463.60" y2="427.90" stroke="#111" stroke-width="1.3"/>
<line x1="528.69" y1="422.40" x2="528.69" y2="427.90" stroke="#111" stroke-width="1.3"/>
<line x1="593.79" y1="422.40" x2="593.79" y2="427.90" stroke="#111" stroke-width="1.3"/>
<line x1="658.88" y1="422.40" x2="658.88" y2="427.90" stroke="#111" stroke-width="1.3"/>
<line x1="496.15" y1="422.40" x2="496.15" y2="425.70" stroke="#111" stroke-width="1.3"/>
<line x1="561.24" y1="422.40" x2="561.24" y2="425.70" stroke="#111" stroke-width="1.3"/>
<line x1="626.33" y1="422.40" x2="626.33" y2="425.70" stroke="#111" stroke-width="1.3"/>
<path d="M463.60,283.40V422.40H671.90" fill="none" stroke="#111" stroke-width="1.3"/>
<text x="463.60" y="440.40" font-size="11.6" text-anchor="middle" fill="#222" >0.000</text>
<text x="528.69" y="440.40" font-size="11.6" text-anchor="middle" fill="#222" >0.005</text>
<text x="593.79" y="440.40" font-size="11.6" text-anchor="middle" fill="#222" >0.010</text>
<text x="658.88" y="440.40" font-size="11.6" text-anchor="middle" fill="#222" >0.015</text>
<text x="454.40" y="426.20" font-size="11.8" text-anchor="end" fill="#222" >0.0</text>
<text x="449.00" y="400.93" font-size="11.8" text-anchor="end" fill="#222" >2.0x10</text>
<text x="454.40" y="395.93" font-size="7.0" text-anchor="end" fill="#222" >-9</text>
<text x="449.00" y="375.65" font-size="11.8" text-anchor="end" fill="#222" >4.0x10</text>
<text x="454.40" y="370.65" font-size="7.0" text-anchor="end" fill="#222" >-9</text>
<text x="449.00" y="350.38" font-size="11.8" text-anchor="end" fill="#222" >6.0x10</text>
<text x="454.40" y="345.38" font-size="7.0" text-anchor="end" fill="#222" >-9</text>
<text x="449.00" y="325.11" font-size="11.8" text-anchor="end" fill="#222" >8.0x10</text>
<text x="454.40" y="320.11" font-size="7.0" text-anchor="end" fill="#222" >-9</text>
<text x="449.00" y="299.84" font-size="11.8" text-anchor="end" fill="#222" >1.0x10</text>
<text x="454.40" y="294.84" font-size="7.0" text-anchor="end" fill="#222" >-8</text>
<text x="568.20" y="463.90" font-size="14.6" text-anchor="middle" fill="#222" >Time (s)</text>
<text transform="translate(408.0,436.8) rotate(-90)" font-size="14.6" fill="#222" textLength="95.3" lengthAdjust="spacingAndGlyphs">Mass reduction</text>
<text transform="translate(408.0,339.9) rotate(-90)" font-size="14.6" fill="#222" textLength="54.0" lengthAdjust="spacingAndGlyphs">rate (kgs</text>
<text transform="translate(403.0,284.6) rotate(-90)" font-size="9" fill="#222">-1</text>
<text transform="translate(408.0,274.0) rotate(-90)" font-size="14.6" fill="#222">)</text>
<g clip-path="url(#cd)">
<path d="M463.60,356.30L472.71,398.50L472.97,382.20L484.43,382.20L500.05,383.20L505.26,419.70L515.67,421.60L678.41,421.60" fill="none" stroke="#959595" stroke-width="0.62"/>
<rect x="460.60" y="353.30" width="6.0" height="6.0" fill="#000"/>
<rect x="471.02" y="379.20" width="6.0" height="6.0" fill="#000"/>
<rect x="481.43" y="379.20" width="6.0" height="6.0" fill="#000"/>
<rect x="491.85" y="380.20" width="6.0" height="6.0" fill="#000"/>
<rect x="502.26" y="416.70" width="6.0" height="6.0" fill="#000"/>
<rect x="512.67" y="418.60" width="6.0" height="6.0" fill="#000"/>
<rect x="523.09" y="418.60" width="6.0" height="6.0" fill="#000"/>
<rect x="533.50" y="418.60" width="6.0" height="6.0" fill="#000"/>
<rect x="543.92" y="418.60" width="6.0" height="6.0" fill="#000"/>
<rect x="554.34" y="418.60" width="6.0" height="6.0" fill="#000"/>
<rect x="564.75" y="418.60" width="6.0" height="6.0" fill="#000"/>
<rect x="575.16" y="418.60" width="6.0" height="6.0" fill="#000"/>
<rect x="585.58" y="418.60" width="6.0" height="6.0" fill="#000"/>
<rect x="596.00" y="418.60" width="6.0" height="6.0" fill="#000"/>
<rect x="606.41" y="418.60" width="6.0" height="6.0" fill="#000"/>
<rect x="616.83" y="418.60" width="6.0" height="6.0" fill="#000"/>
<rect x="627.24" y="418.60" width="6.0" height="6.0" fill="#000"/>
<rect x="637.65" y="418.60" width="6.0" height="6.0" fill="#000"/>
<rect x="648.07" y="418.60" width="6.0" height="6.0" fill="#000"/>
<rect x="658.48" y="418.60" width="6.0" height="6.0" fill="#000"/>
<rect x="668.90" y="418.60" width="6.0" height="6.0" fill="#000"/>
</g>
<g clip-path="url(#cd)">
<path d="M463.60,323.40L468.81,335.00L474.02,348.90L479.22,367.00L483.13,380.00L483.78,362.20L494.85,362.20L505.26,363.30L526.09,364.30L548.74,364.60L552.13,380.00L557.34,418.60L567.75,421.60L678.41,421.60" fill="none" stroke="#ff8c8c" stroke-width="0.62"/>
<circle cx="463.60" cy="323.40" r="3.4" fill="#f00"/>
<circle cx="474.02" cy="348.90" r="3.4" fill="#f00"/>
<circle cx="484.43" cy="362.20" r="3.4" fill="#f00"/>
<circle cx="494.85" cy="362.20" r="3.4" fill="#f00"/>
<circle cx="505.26" cy="363.30" r="3.4" fill="#f00"/>
<circle cx="515.67" cy="363.70" r="3.4" fill="#f00"/>
<circle cx="526.09" cy="364.30" r="3.4" fill="#f00"/>
<circle cx="536.50" cy="364.50" r="3.4" fill="#f00"/>
<circle cx="546.92" cy="364.60" r="3.4" fill="#f00"/>
<circle cx="557.34" cy="418.60" r="3.4" fill="#f00"/>
<circle cx="567.75" cy="421.60" r="3.4" fill="#f00"/>
<circle cx="578.16" cy="421.60" r="3.4" fill="#f00"/>
<circle cx="588.58" cy="421.60" r="3.4" fill="#f00"/>
<circle cx="599.00" cy="421.60" r="3.4" fill="#f00"/>
<circle cx="609.41" cy="421.60" r="3.4" fill="#f00"/>
<circle cx="619.83" cy="421.60" r="3.4" fill="#f00"/>
<circle cx="630.24" cy="421.60" r="3.4" fill="#f00"/>
<circle cx="640.65" cy="421.60" r="3.4" fill="#f00"/>
<circle cx="651.07" cy="421.60" r="3.4" fill="#f00"/>
<circle cx="661.48" cy="421.60" r="3.4" fill="#f00"/>
<circle cx="671.90" cy="421.60" r="3.4" fill="#f00"/>
</g>
<g clip-path="url(#cd)">
<path d="M463.60,290.60L474.02,306.50L484.43,330.30L494.85,359.70L500.31,375.50L500.31,341.60L505.26,341.80L609.41,344.00L613.71,344.20L617.22,360.00L619.83,384.80L625.03,404.00L630.24,416.80L640.65,421.00L678.41,421.00" fill="none" stroke="#8c8cff" stroke-width="0.62"/>
<path d="M463.60,285.80L467.70,293.00L459.50,293.00Z" fill="#00f"/>
<path d="M474.02,301.70L478.12,308.90L469.92,308.90Z" fill="#00f"/>
<path d="M484.43,325.50L488.53,332.70L480.33,332.70Z" fill="#00f"/>
<path d="M494.85,354.90L498.95,362.10L490.75,362.10Z" fill="#00f"/>
<path d="M505.26,337.00L509.36,344.20L501.16,344.20Z" fill="#00f"/>
<path d="M515.67,337.22L519.77,344.42L511.57,344.42Z" fill="#00f"/>
<path d="M526.09,337.44L530.19,344.64L521.99,344.64Z" fill="#00f"/>
<path d="M536.50,337.66L540.61,344.86L532.40,344.86Z" fill="#00f"/>
<path d="M546.92,337.88L551.02,345.08L542.82,345.08Z" fill="#00f"/>
<path d="M557.34,338.10L561.44,345.30L553.24,345.30Z" fill="#00f"/>
<path d="M567.75,338.32L571.85,345.52L563.65,345.52Z" fill="#00f"/>
<path d="M578.16,338.54L582.26,345.74L574.06,345.74Z" fill="#00f"/>
<path d="M588.58,338.76L592.68,345.96L584.48,345.96Z" fill="#00f"/>
<path d="M599.00,338.98L603.10,346.18L594.89,346.18Z" fill="#00f"/>
<path d="M609.41,339.20L613.51,346.40L605.31,346.40Z" fill="#00f"/>
<path d="M619.83,380.00L623.93,387.20L615.73,387.20Z" fill="#00f"/>
<path d="M630.24,412.00L634.34,419.20L626.14,419.20Z" fill="#00f"/>
<path d="M640.65,416.20L644.75,423.40L636.55,423.40Z" fill="#00f"/>
<path d="M651.07,416.20L655.17,423.40L646.97,423.40Z" fill="#00f"/>
<path d="M661.48,416.20L665.58,423.40L657.38,423.40Z" fill="#00f"/>
<path d="M671.90,416.20L676.00,423.40L667.80,423.40Z" fill="#00f"/>
</g>
<line x1="567.40" y1="285.20" x2="595.00" y2="285.20" stroke="#959595" stroke-width="0.62"/>
<rect x="578.20" y="282.20" width="6.0" height="6.0" fill="#000"/>
<text x="599.10" y="289.20" font-size="11.4" text-anchor="start" fill="#222" >D</text>
<text x="608.30" y="292.80" font-size="8.4" text-anchor="start" fill="#222" letter-spacing="0.2">P0</text>
<text x="622.20" y="289.20" font-size="11.4" text-anchor="start" fill="#222" >=</text>
<text x="631.20" y="289.20" font-size="11.4" text-anchor="start" fill="#222" >50</text>
<text x="645.40" y="289.20" font-size="11.4" text-anchor="start" fill="#222" >μm</text>
<line x1="567.40" y1="304.40" x2="595.00" y2="304.40" stroke="#ff8c8c" stroke-width="0.62"/>
<circle cx="581.20" cy="304.40" r="3.4" fill="#f00"/>
<text x="599.10" y="308.40" font-size="11.4" text-anchor="start" fill="#222" >D</text>
<text x="608.30" y="312.00" font-size="8.4" text-anchor="start" fill="#222" letter-spacing="0.2">P0</text>
<text x="622.20" y="308.40" font-size="11.4" text-anchor="start" fill="#222" >=</text>
<text x="631.20" y="308.40" font-size="11.4" text-anchor="start" fill="#222" >75</text>
<text x="645.40" y="308.40" font-size="11.4" text-anchor="start" fill="#222" >μm</text>
<line x1="567.40" y1="322.60" x2="595.00" y2="322.60" stroke="#8c8cff" stroke-width="0.62"/>
<path d="M581.20,318.40L585.30,325.60L577.10,325.60Z" fill="#00f"/>
<text x="599.10" y="326.60" font-size="11.4" text-anchor="start" fill="#222" >D</text>
<text x="608.30" y="330.20" font-size="8.4" text-anchor="start" fill="#222" letter-spacing="0.2">P0</text>
<text x="622.20" y="326.60" font-size="11.4" text-anchor="start" fill="#222" >=</text>
<text x="631.20" y="326.60" font-size="11.4" text-anchor="start" fill="#222" >100</text>
<text x="651.70" y="326.60" font-size="11.4" text-anchor="start" fill="#222" >μm</text>
</svg>
</body></html>
